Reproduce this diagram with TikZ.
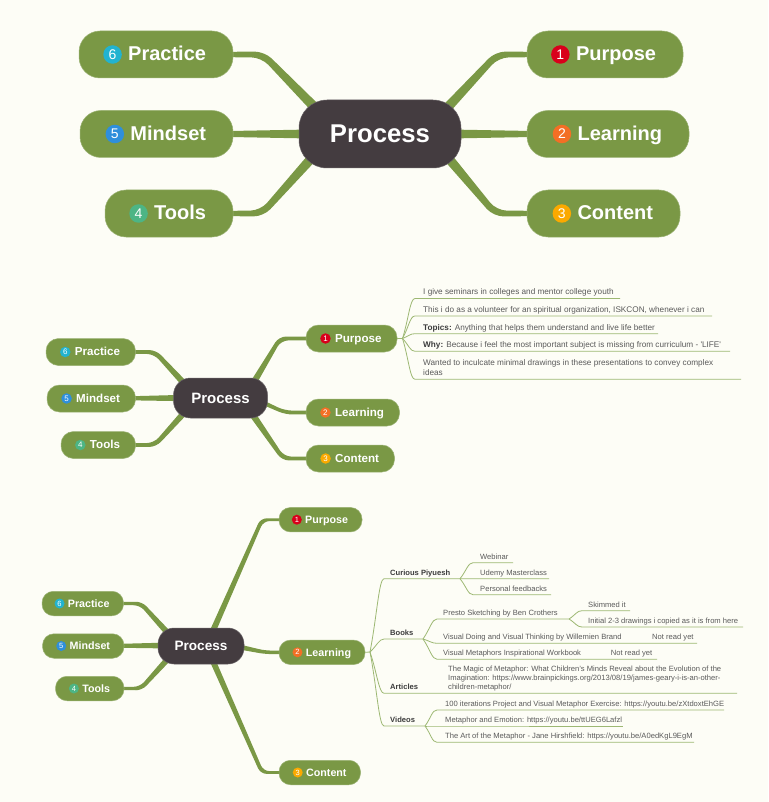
\documentclass[tikz,border=0pt]{standalone}
\usepackage{fontspec}
\setmainfont{Liberation Sans}
\usetikzlibrary{positioning, calc, backgrounds}

\definecolor{paper}{HTML}{FDFDF6}
\definecolor{leafgreen}{HTML}{7A9845}
\definecolor{twiggreen}{HTML}{9DB873}
\definecolor{procdark}{HTML}{443C40}
\definecolor{leafgray}{HTML}{5A5A5A}
\definecolor{keygray}{HTML}{3C3C3C}
\definecolor{ored}{HTML}{D9001B}
\definecolor{oorange}{HTML}{F36F25}
\definecolor{oamber}{HTML}{FBA900}
\definecolor{ogreen}{HTML}{4DB585}
\definecolor{oblue}{HTML}{2E8FDB}
\definecolor{ocyan}{HTML}{22B3D0}

\tikzset{
  pill/.style={fill=leafgreen,draw=leafgreen!75!white,line width=.5pt,inner sep=0pt},
  pillbig/.style={pill,rounded corners=21pt,minimum height=47pt},
  pillmid/.style={pill,rounded corners=12.5pt,minimum height=27pt},
  pillsmall/.style={pill,rounded corners=11.5pt,minimum height=24.5pt},
  label/.style={text=white,inner sep=0pt,anchor=base east},
  labelbig/.style={label,xshift=-27pt,yshift=-6.5pt,font=\fontsize{20}{24}\selectfont\bfseries},
  labelmid/.style={label,xshift=-15.5pt,yshift=-3.9pt,font=\fontsize{11.6}{14}\selectfont\bfseries},
  labelsmall/.style={label,xshift=-14pt,yshift=-3.7pt,font=\fontsize{10.7}{13}\selectfont\bfseries},
  badge/.style={circle,inner sep=0pt,text=white,anchor=east},
  badgebig/.style={badge,minimum size=18.5pt,xshift=-6pt,font=\fontsize{14}{14}\selectfont},
  badgemid/.style={badge,minimum size=10.5pt,xshift=-4pt,font=\fontsize{8}{8}\selectfont},
  badgesmall/.style={badge,minimum size=10pt,xshift=-3pt,font=\fontsize{7.5}{7.5}\selectfont},
  proc/.style={fill=procdark,draw=procdark!80!white,line width=.5pt,text=white,inner sep=0pt,font=\bfseries},
  branchline/.style={fill=leafgreen},
  twigline/.style={draw=twiggreen,line width=.8pt},
  leafline/.style={inner sep=0pt,anchor=base west,align=left,text=leafgray,font=\fontsize{7.6}{9}\selectfont},
  leaflarge/.style={leafline,font=\fontsize{8.2}{10.5}\selectfont},
}

% pill, its badge and its label
\newcommand{\topic}[8]{
  \node[pill#2,minimum width={(#4-#3)*1pt}] (#1) at ({(#3+#4)/2},#5) {};
  \node[label#2] (#1t) at (#1.east) {#8};
  \node[badge#2,fill=#6] (#1b) at (#1t.west |- #1.center) {#7};
}
% thick branch with one bend, drawn under the nodes
\newcommand{\branch}[6]{
  \fill[branchline] ($(#1.center)+(0,-#4)$) -- ($(#2,0 |- #1.center)+(#5)$) -- ($(#3)+(#6)$)
    -- ($(#3)-(#6)$) -- ($(#2,0 |- #1.center)-(#5)$) -- ($(#1.center)+(0,#4)$) -- cycle;
}
\newcommand{\taper}[4]{
  \fill[branchline] ($(#1.center)+(0,-#3)$) -- ($(#2)+(0,-#4)$) -- ($(#2)+(0,#4)$) -- ($(#1.center)+(0,#3)$) -- cycle;
}
% text with its underline between two coordinates
\newcommand{\leaftext}[7][leafline]{
  \coordinate (#2s) at (#3,#5);
  \coordinate (#2e) at (#4,#5);
  \node[#1] (#2) at ($(#2s)+(#6,-3.7)$) {#7};
}
\newcommand{\twig}[2]{
  \draw[twigline] (#1) .. controls ($(#1)!0.5!(#2s)$) and ($(#2s)+(-5,0)$) .. (#2s) -- (#2e);
}
\newcommand{\key}[1]{\textcolor{keygray}{\textbf{#1}}}

\begin{document}
\begin{tikzpicture}[x=1pt,y=-1pt]
\useasboundingbox (0,0) rectangle (768,802);

% first map
\node[proc,minimum width=162pt,minimum height=68pt,rounded corners=28pt,font=\fontsize{25.7}{30}\selectfont\bfseries] (proca) at (380,134) {Process};
\topic{practicea}{big}{79}{233}{54.5}{ocyan}{6}{Practice}
\topic{mindseta}{big}{80}{233}{134}{oblue}{5}{Mindset}
\topic{toolsa}{big}{105}{233}{213.5}{ogreen}{4}{Tools}
\topic{purposea}{big}{527}{683}{54.5}{ored}{1}{Purpose}
\topic{learninga}{big}{527}{689}{134}{oorange}{2}{Learning}
\topic{contenta}{big}{527}{680}{213.5}{oamber}{3}{Content}

% second map
\node[proc,minimum width=94pt,minimum height=40pt,rounded corners=17pt,font=\fontsize{15}{18}\selectfont\bfseries] (procb) at (220.5,398) {Process};
\topic{practiceb}{mid}{46}{135.5}{352}{ocyan}{6}{Practice}
\topic{mindsetb}{mid}{47}{135.5}{398.5}{oblue}{5}{Mindset}
\topic{toolsb}{mid}{61}{135.5}{445}{ogreen}{4}{Tools}
\topic{purposeb}{mid}{306}{397}{338.5}{ored}{1}{Purpose}
\topic{learningb}{mid}{306}{399.5}{412.5}{oorange}{2}{Learning}
\topic{contentb}{mid}{306}{394.5}{458.5}{oamber}{3}{Content}
\coordinate (purposehub) at (402.5,338.5);
\draw[twigline] (purposeb.east) -- (purposehub);
\leaftext[leaflarge]{seminars}{415}{620}{298.5}{8}{I give seminars in colleges and mentor college youth}
\leaftext[leaflarge]{volunteer}{415}{712}{316}{8}{This i do as a volunteer for an spiritual organization, ISKCON, whenever i can}
\leaftext[leaflarge]{topics}{415}{658}{333.7}{8}{\key{Topics:} Anything that helps them understand and live life better}
\leaftext[leaflarge]{why}{415}{730}{351.3}{8}{\key{Why:} Because i feel the most important subject is missing from curriculum - \textquotesingle LIFE\textquotesingle}
\leaftext[leaflarge]{inculcate}{415}{741}{379.3}{8}{Wanted to inculcate minimal drawings in these presentations to convey complex\\ideas}
\twig{purposehub}{seminars}
\twig{purposehub}{volunteer}
\twig{purposehub}{topics}
\twig{purposehub}{why}
\twig{purposehub}{inculcate}

% third map
\node[proc,minimum width=86pt,minimum height=36pt,rounded corners=16pt,font=\fontsize{13.6}{16}\selectfont\bfseries] (procc) at (201,646) {Process};
\topic{practicec}{small}{42}{123.5}{603.5}{ocyan}{6}{Practice}
\topic{mindsetc}{small}{42.5}{124}{646}{oblue}{5}{Mindset}
\topic{toolsc}{small}{55.5}{124}{688.5}{ogreen}{4}{Tools}
\topic{purposec}{small}{279}{362}{519.7}{ored}{1}{Purpose}
\topic{learningc}{small}{279}{365}{652.3}{oorange}{2}{Learning}
\topic{contentc}{small}{279}{360.5}{772.5}{oamber}{3}{Content}
\coordinate (learninghub) at (370,652);
\draw[twigline] (learningc.east) -- (learninghub);

\leaftext{curious}{384}{460}{578.7}{6}{\key{Curious Piyuesh}}
\leaftext{books}{384}{423}{639}{6}{\key{Books}}
\leaftext{articles}{384}{737}{693.3}{6}{\key{Articles}}
\leaftext{videos}{384}{425}{726}{6}{\key{Videos}}
\twig{learninghub}{curious}
\twig{learninghub}{books}
\twig{learninghub}{articles}
\twig{learninghub}{videos}

\leaftext{webinar}{473}{513}{562.7}{7}{Webinar}
\leaftext{udemy}{473}{549}{578.7}{7}{Udemy Masterclass}
\leaftext{feedbacks}{473}{551}{594.7}{7}{Personal feedbacks}
\twig{curiouse}{webinar}
\twig{curiouse}{udemy}
\twig{curiouse}{feedbacks}

\leaftext{presto}{437}{569}{619}{6}{Presto Sketching by Ben Crothers}
\leaftext{doing}{437}{697}{643.3}{6}{Visual Doing and Visual Thinking by Willemien Brand}
\leaftext{workbook}{437}{657}{659.3}{6}{Visual Metaphors Inspirational Workbook}
\twig{bookse}{presto}
\twig{bookse}{doing}
\twig{bookse}{workbook}
\node[leafline] (doingnote) at (652,639.6) {Not read yet};
\node[leafline] (workbooknote) at (610.7,655.6) {Not read yet};

\leaftext{skimmed}{582}{630}{610.7}{6}{Skimmed it}
\leaftext{initial}{582}{743}{627}{6}{Initial 2-3 drawings i copied as it is from here}
\twig{prestoe}{skimmed}
\twig{prestoe}{initial}

\node[leafline] (magic) at (448,689.6) {The Magic of Metaphor: What Children’s Minds Reveal about the Evolution of the\\Imagination: https://www.brainpickings.org/2013/08/19/james-geary-i-is-an-other-\\children-metaphor/};

\leaftext{iterations}{437}{724}{710}{8}{100 iterations Project and Visual Metaphor Exercise: https://youtu.be/zXtdoxtEhGE}
\leaftext{emotion}{437}{622.7}{726}{8}{Metaphor and Emotion: https://youtu.be/ttUEG6Lafzl}
\leaftext{artof}{437}{694}{742.3}{8}{The Art of the Metaphor - Jane Hirshfield: https://youtu.be/A0edKgL9EgM}
\twig{videose}{iterations}
\twig{videose}{emotion}
\twig{videose}{artof}

\begin{scope}[on background layer]
  \fill[paper] (0,0) rectangle (768,802);
  % points under the three central nodes
  \coordinate (anw) at (326,119); \coordinate (asw) at (326,142); \coordinate (ane) at (434,122);
  \coordinate (ase) at (434,141); \coordinate (aw) at (310,134); \coordinate (ae) at (450,134);
  \coordinate (bnw) at (193,393); \coordinate (bsw) at (193,403); \coordinate (bne) at (248,392);
  \coordinate (bse) at (248,408); \coordinate (bw) at (185,398); \coordinate (be) at (255,399);
  \coordinate (cnw) at (176,642); \coordinate (csw) at (176,650); \coordinate (cne) at (208,642);
  \coordinate (cse) at (208,650); \coordinate (cw) at (170,645.5); \coordinate (ce) at (230,645);

  \begin{scope}[rounded corners=10pt]
    \branch{practicea}{263}{anw}{2}{1.5,-3}{3.7,-3.7}
    \branch{toolsa}{262}{asw}{2}{-1.5,-3}{-3.7,-3.7}
    \branch{purposea}{497}{ane}{2}{-1.5,-3}{-3.7,-3.7}
    \branch{contenta}{495}{ase}{2}{1.5,-3}{3.7,-3.7}
    \taper{mindseta}{aw}{1.6}{4.5}
    \taper{learninga}{ae}{1.6}{4.5}
  \end{scope}
  \begin{scope}[rounded corners=7pt]
    \branch{practiceb}{155}{bnw}{1.5}{1,-2}{2.4,-2.4}
    \branch{toolsb}{155}{bsw}{1.5}{-1,-2}{-2.4,-2.4}
    \branch{purposeb}{280}{bne}{1.5}{-1,-2}{-2.8,-2}
    \branch{learningb}{285}{be}{1.5}{-.4,-2}{-1,-3}
    \branch{contentb}{283}{bse}{1.5}{1,-2}{2.8,-2}
    \taper{mindsetb}{bw}{1.2}{3.2}
  \end{scope}
  \begin{scope}[rounded corners=6pt]
    \branch{practicec}{141}{cnw}{1.3}{1,-1.8}{2.3,-2.3}
    \branch{toolsc}{141}{csw}{1.3}{-1,-1.8}{-2.3,-2.3}
    \branch{purposec}{262}{cne}{1.2}{-1.4,-1.4}{-2.8,-1.2}
    \branch{contentc}{262}{cse}{1.2}{1.4,-1.4}{2.8,-1.2}
    \branch{learningc}{265}{ce}{1.4}{-.4,-1.8}{-.6,-3}
    \taper{mindsetc}{cw}{1.2}{3}
  \end{scope}
\end{scope}
\end{tikzpicture}
\end{document}
